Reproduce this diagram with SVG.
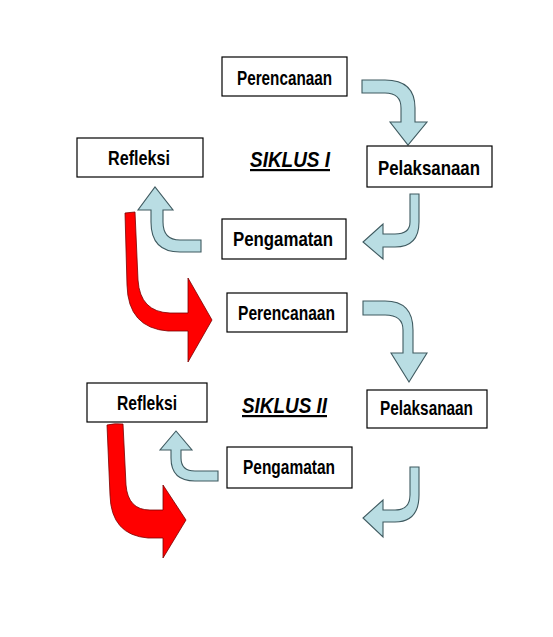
<svg xmlns="http://www.w3.org/2000/svg" width="553" height="637" viewBox="0 0 553 637">
<style>
.box{fill:#fff;stroke:#000;stroke-width:1.2}
.lbl{font-family:"Liberation Sans Narrow","Liberation Sans",Arial,sans-serif;font-weight:bold;font-size:21px;fill:#000}
.sik{font-family:"Liberation Sans Narrow","Liberation Sans",Arial,sans-serif;font-weight:bold;font-style:italic;font-size:22px;fill:#000;text-decoration:underline}
.blue{fill:#b9dde3;stroke:#3f5a60;stroke-width:1.1;stroke-linejoin:miter}
.red{fill:#ff0000;stroke:#7a0000;stroke-width:0.8}
</style>
<rect width="553" height="637" fill="#fff"/>
<g id="connectors">
<path class="blue" d="M362,80 L385,80 Q415,80 415,108 L415,122 L427,122 L408,145 L390,122 L401,122 L401,108 Q401,93 385,93 L362,93 Z"/>
<path class="blue" d="M410,194 L419,194 L419,222 Q419,247 395,247 L383,247 L383,259 L363,242 L383,224 L383,234 L395,234 Q410,234 410,222 Z"/>
<path class="blue" d="M201,240 L180,240 Q163,240 163,222 L163,210 L173,210 L155,187 L138,210 L151,210 L151,222 Q151,252 180,252 L201,252 Z"/>
<path class="red" d="M125,213 L135,212 L138,280 Q140,312 170,313 L188,313 L188,278 L212,320 L188,362 L188,331 L168,331 Q128,328 127,285 Z"/>
<path class="blue" d="M363,301 L385,301 Q413,301 413,330 L413,353 L427,353 L409,382 L391,353 L403,353 L403,330 Q403,315 385,315 L363,315 Z"/>
<path class="blue" d="M410,467 L419,467 L419,495 Q419,522 395,522 L383,522 L383,537 L363,518 L383,500 L383,510 L395,510 Q410,510 410,495 Z"/>
<path class="blue" d="M218,471 L195,471 Q181,471 181,458 L181,450 L192,450 L176,431 L160,450 L171,450 L171,458 Q171,481 195,481 L218,481 Z"/>
<path class="red" d="M107,425 Q115,423 123,424 L126,485 Q128,510 150,510 L163,510 L163,485 L186,520 L163,558 L163,538 L148,538 Q111,535 110,495 Z"/>
</g>
<g id="perencanaan1"><rect class="box" x="222" y="57" width="125" height="39"/><text class="lbl" x="237" y="85" textLength="95" lengthAdjust="spacingAndGlyphs">Perencanaan</text></g>
<g id="pelaksanaan1"><rect class="box" x="367" y="146" width="125" height="41"/><text class="lbl" x="378" y="175" textLength="102" lengthAdjust="spacingAndGlyphs">Pelaksanaan</text></g>
<g id="refleksi1"><rect class="box" x="77" y="138" width="126" height="39"/><text class="lbl" x="108" y="165" textLength="62" lengthAdjust="spacingAndGlyphs">Refleksi</text></g>
<g id="pengamatan1"><rect class="box" x="222" y="219" width="124" height="40"/><text class="lbl" x="233" y="246" textLength="100" lengthAdjust="spacingAndGlyphs">Pengamatan</text></g>
<g id="siklus1"><text class="sik" x="250" y="167" textLength="80" lengthAdjust="spacingAndGlyphs">SIKLUS I</text></g>
<g id="perencanaan2"><rect class="box" x="227" y="293" width="120" height="39"/><text class="lbl" x="238" y="320" textLength="97" lengthAdjust="spacingAndGlyphs">Perencanaan</text></g>
<g id="pelaksanaan2"><rect class="box" x="367" y="390" width="120" height="38"/><text class="lbl" x="380" y="415" textLength="93" lengthAdjust="spacingAndGlyphs">Pelaksanaan</text></g>
<g id="refleksi2"><rect class="box" x="87" y="383" width="120" height="39"/><text class="lbl" x="117" y="410" textLength="60" lengthAdjust="spacingAndGlyphs">Refleksi</text></g>
<g id="pengamatan2"><rect class="box" x="227" y="447" width="125" height="41"/><text class="lbl" x="243" y="474" textLength="92" lengthAdjust="spacingAndGlyphs">Pengamatan</text></g>
<g id="siklus2"><text class="sik" x="242" y="413" textLength="85" lengthAdjust="spacingAndGlyphs">SIKLUS II</text></g>
</svg>
